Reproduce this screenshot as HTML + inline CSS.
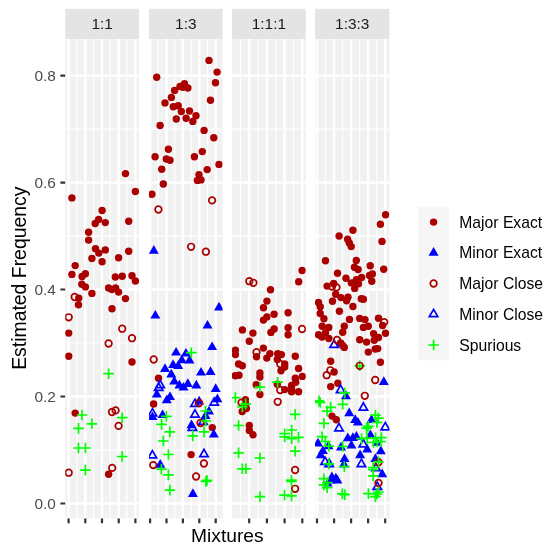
<!DOCTYPE html>
<html><head><meta charset="utf-8"><title>Mixtures</title>
<style>html,body{margin:0;padding:0;background:#fff}svg{display:block}text{font-family:"Liberation Sans",Arial,sans-serif}</style>
</head><body>
<svg width="550" height="550" viewBox="0 0 550 550">
<rect width="550" height="550" fill="#fff"/>
<g>
<rect x="65.2" y="8.8" width="73.8" height="30.3" fill="#e4e4e4"/>
<text x="102.1" y="29.4" font-size="15.4" fill="#1a1a1a" text-anchor="middle">1:1</text>
<rect x="65.2" y="39.1" width="73.8" height="479.3" fill="#f1f1f1"/>
<path d="M65.2 450H139M65.2 343H139M65.2 236.1H139M65.2 129.1H139M76.9 39.1V518.4M93.6 39.1V518.4M110.3 39.1V518.4M127 39.1V518.4" stroke="#fff" stroke-width="1.2" fill="none"/>
<path d="M65.2 503.5H139M65.2 396.5H139M65.2 289.5H139M65.2 182.6H139M65.2 75.6H139M68.6 39.1V518.4M85.3 39.1V518.4M102 39.1V518.4M118.7 39.1V518.4M135.4 39.1V518.4" stroke="#fff" stroke-width="2.4" fill="none"/>
<path d="M68.6 518.4V523.3M85.3 518.4V523.3M102 518.4V523.3M118.7 518.4V523.3M135.4 518.4V523.3" stroke="#333" stroke-width="2.2" fill="none"/>
<clipPath id="c1"><rect x="65.2" y="39.1" width="73.8" height="479.3"/></clipPath>
<g clip-path="url(#c1)">
<g fill="#aa0000">
<circle cx="125.5" cy="173.6" r="3.7"/>
<circle cx="135.4" cy="191.5" r="3.7"/>
<circle cx="71.9" cy="197.9" r="3.7"/>
<circle cx="102.1" cy="210.5" r="3.7"/>
<circle cx="98.6" cy="219.5" r="3.7"/>
<circle cx="95.2" cy="223.5" r="3.7"/>
<circle cx="105.3" cy="222.6" r="3.7"/>
<circle cx="128.7" cy="221.3" r="3.7"/>
<circle cx="88.6" cy="232.3" r="3.7"/>
<circle cx="88.6" cy="240.1" r="3.7"/>
<circle cx="95.5" cy="248.7" r="3.7"/>
<circle cx="105.3" cy="249.9" r="3.7"/>
<circle cx="98.8" cy="253.1" r="3.7"/>
<circle cx="128.7" cy="251.2" r="3.7"/>
<circle cx="91.9" cy="258.5" r="3.7"/>
<circle cx="118.6" cy="257.7" r="3.7"/>
<circle cx="102.1" cy="261.8" r="3.7"/>
<circle cx="75.2" cy="265.6" r="3.7"/>
<circle cx="71.9" cy="274.4" r="3.7"/>
<circle cx="85.4" cy="273.8" r="3.7"/>
<circle cx="82.1" cy="276.5" r="3.7"/>
<circle cx="115.3" cy="277" r="3.7"/>
<circle cx="122.2" cy="276.2" r="3.7"/>
<circle cx="132" cy="275.7" r="3.7"/>
<circle cx="135.4" cy="281" r="3.7"/>
<circle cx="81.8" cy="284.2" r="3.7"/>
<circle cx="85.4" cy="286.9" r="3.7"/>
<circle cx="108.6" cy="288" r="3.7"/>
<circle cx="112" cy="289.6" r="3.7"/>
<circle cx="115.6" cy="288" r="3.7"/>
<circle cx="118.6" cy="292.1" r="3.7"/>
<circle cx="91.9" cy="293.4" r="3.7"/>
<circle cx="125.5" cy="298.6" r="3.7"/>
<circle cx="78.8" cy="298.1" r="3.7"/>
<circle cx="78.5" cy="304.7" r="3.7"/>
<circle cx="112" cy="308.8" r="3.7"/>
<circle cx="68.7" cy="333.1" r="3.7"/>
<circle cx="68.7" cy="356.2" r="3.7"/>
<circle cx="132" cy="362" r="3.7"/>
<circle cx="75.2" cy="413.1" r="3.7"/>
<circle cx="108.6" cy="474.3" r="3.7"/>
</g>
<g fill="none" stroke="#aa0000" stroke-width="1.7">
<circle cx="74.7" cy="297" r="3.3"/>
<circle cx="68.7" cy="317.3" r="3.3"/>
<circle cx="122.2" cy="328.7" r="3.3"/>
<circle cx="132" cy="338.2" r="3.3"/>
<circle cx="108.6" cy="343.5" r="3.3"/>
<circle cx="112" cy="412" r="3.3"/>
<circle cx="115.6" cy="410.4" r="3.3"/>
<circle cx="118.6" cy="425.9" r="3.3"/>
<circle cx="112.2" cy="467.9" r="3.3"/>
<circle cx="68.7" cy="472.7" r="3.3"/>
</g>
<path d="M103.3 373.7H113.9M108.6 368.4V379M76.8 415H87.4M82.1 409.7V420.3M86.6 423.8H97.2M91.9 418.5V429.1M73.2 428.4H83.8M78.5 423.1V433.7M116.9 417.7H127.5M122.2 412.4V423M73.2 448H83.8M78.5 442.7V453.3M80.1 448H90.7M85.4 442.7V453.3M116.9 456.5H127.5M122.2 451.2V461.8M80.1 470.1H90.7M85.4 464.8V475.4" stroke="#00ff00" stroke-width="1.7" fill="none"/>
</g>
</g>
<g>
<rect x="149" y="8.8" width="73.6" height="30.3" fill="#e4e4e4"/>
<text x="185.8" y="29.4" font-size="15.4" fill="#1a1a1a" text-anchor="middle">1:3</text>
<rect x="149" y="39.1" width="73.6" height="479.3" fill="#f1f1f1"/>
<path d="M149 450H222.6M149 343H222.6M149 236.1H222.6M149 129.1H222.6M158.3 39.1V518.4M174.7 39.1V518.4M191.1 39.1V518.4M207.5 39.1V518.4" stroke="#fff" stroke-width="1.2" fill="none"/>
<path d="M149 503.5H222.6M149 396.5H222.6M149 289.5H222.6M149 182.6H222.6M149 75.6H222.6M150.1 39.1V518.4M166.5 39.1V518.4M182.9 39.1V518.4M199.3 39.1V518.4M215.7 39.1V518.4" stroke="#fff" stroke-width="2.4" fill="none"/>
<path d="M150.1 518.4V523.3M166.5 518.4V523.3M182.9 518.4V523.3M199.3 518.4V523.3M215.7 518.4V523.3" stroke="#333" stroke-width="2.2" fill="none"/>
<clipPath id="c2"><rect x="149" y="39.1" width="73.6" height="479.3"/></clipPath>
<g clip-path="url(#c2)">
<g fill="#aa0000">
<circle cx="156.7" cy="77.3" r="3.7"/>
<circle cx="209" cy="60.4" r="3.7"/>
<circle cx="217.1" cy="72.1" r="3.7"/>
<circle cx="215.5" cy="82.8" r="3.7"/>
<circle cx="184.5" cy="83.7" r="3.7"/>
<circle cx="180" cy="86.4" r="3.7"/>
<circle cx="187.9" cy="88" r="3.7"/>
<circle cx="182.8" cy="87.2" r="3.7"/>
<circle cx="174.6" cy="90.4" r="3.7"/>
<circle cx="171.4" cy="97.4" r="3.7"/>
<circle cx="210.5" cy="100.2" r="3.7"/>
<circle cx="165" cy="102.9" r="3.7"/>
<circle cx="173.3" cy="106.8" r="3.7"/>
<circle cx="178.2" cy="105.8" r="3.7"/>
<circle cx="181.3" cy="111.5" r="3.7"/>
<circle cx="189.5" cy="111" r="3.7"/>
<circle cx="196" cy="115.8" r="3.7"/>
<circle cx="176.3" cy="119" r="3.7"/>
<circle cx="186.1" cy="118.3" r="3.7"/>
<circle cx="192.8" cy="121.4" r="3.7"/>
<circle cx="160.1" cy="125.5" r="3.7"/>
<circle cx="204.1" cy="130.4" r="3.7"/>
<circle cx="213.8" cy="137.8" r="3.7"/>
<circle cx="168.4" cy="149.3" r="3.7"/>
<circle cx="155.1" cy="156.7" r="3.7"/>
<circle cx="166.3" cy="159" r="3.7"/>
<circle cx="170" cy="160.3" r="3.7"/>
<circle cx="202.3" cy="151.6" r="3.7"/>
<circle cx="194.4" cy="156.7" r="3.7"/>
<circle cx="219" cy="164.4" r="3.7"/>
<circle cx="161.7" cy="169.3" r="3.7"/>
<circle cx="207.2" cy="169.6" r="3.7"/>
<circle cx="199" cy="174.7" r="3.7"/>
<circle cx="197.4" cy="180.4" r="3.7"/>
<circle cx="201" cy="179.9" r="3.7"/>
<circle cx="163.3" cy="184" r="3.7"/>
<circle cx="151.9" cy="194.3" r="3.7"/>
<circle cx="158.5" cy="378.3" r="3.7"/>
<circle cx="153.6" cy="404" r="3.7"/>
<circle cx="212.3" cy="427.6" r="3.7"/>
<circle cx="191.1" cy="454.6" r="3.7"/>
</g>
<g fill="#0000ff">
<polygon points="153.8,245.1 158.8,253.8 148.8,253.8"/>
<polygon points="219,301.7 224,310.4 214,310.4"/>
<polygon points="155.3,309.9 160.3,318.6 150.3,318.6"/>
<polygon points="207.5,319.9 212.5,328.6 202.5,328.6"/>
<polygon points="212.1,341.4 217.1,350.1 207.1,350.1"/>
<polygon points="176.1,346.9 181.1,355.6 171.1,355.6"/>
<polygon points="185.9,347.9 190.9,356.6 180.9,356.6"/>
<polygon points="181.8,354.5 186.8,363.2 176.8,363.2"/>
<polygon points="189.5,354.8 194.5,363.5 184.5,363.5"/>
<polygon points="173.1,359.2 178.1,367.9 168.1,367.9"/>
<polygon points="178.2,360.2 183.2,368.9 173.2,368.9"/>
<polygon points="165,363.3 170,372 160,372"/>
<polygon points="171.3,368.7 176.3,377.4 166.3,377.4"/>
<polygon points="201,366.9 206,375.6 196,375.6"/>
<polygon points="210.5,366.3 215.5,375 205.5,375"/>
<polygon points="174.3,375.7 179.3,384.4 169.3,384.4"/>
<polygon points="179.4,379.8 184.4,388.5 174.4,388.5"/>
<polygon points="183.5,381.9 188.5,390.6 178.5,390.6"/>
<polygon points="187.8,378.2 192.8,386.9 182.8,386.9"/>
<polygon points="196.3,379.8 201.3,388.5 191.3,388.5"/>
<polygon points="215.7,383.2 220.7,391.9 210.7,391.9"/>
<polygon points="156.8,388.8 161.8,397.5 151.8,397.5"/>
<polygon points="170,391.4 175,400.1 165,400.1"/>
<polygon points="166.8,394.6 171.8,403.3 161.8,403.3"/>
<polygon points="199.2,395.8 204.2,404.5 194.2,404.5"/>
<polygon points="217.4,393.6 222.4,402.3 212.4,402.3"/>
<polygon points="209,405.7 214,414.4 204,414.4"/>
<polygon points="205.5,410.2 210.5,418.9 200.5,418.9"/>
<polygon points="162.6,409.4 167.6,418.1 157.6,418.1"/>
<polygon points="152.5,411.4 157.5,420.1 147.5,420.1"/>
<polygon points="191.5,419.6 196.5,428.3 186.5,428.3"/>
<polygon points="213.8,428.8 218.8,437.5 208.8,437.5"/>
<polygon points="160.2,459 165.2,467.7 155.2,467.7"/>
<polygon points="192.9,488.2 197.9,496.9 187.9,496.9"/>
</g>
<g fill="none" stroke="#0000ff" stroke-width="1.7">
<polygon points="160.2,380.3 164.4,387.6 156,387.6"/>
<polygon points="158.7,383.1 162.9,390.4 154.5,390.4"/>
<polygon points="195,399.1 199.2,406.4 190.8,406.4"/>
<polygon points="214.2,397.9 218.4,405.2 210,405.2"/>
<polygon points="195,409.8 199.2,417.1 190.8,417.1"/>
<polygon points="152.5,408.6 156.7,415.9 148.3,415.9"/>
<polygon points="203.1,417.1 207.3,424.4 198.9,424.4"/>
<polygon points="192.4,423.1 196.6,430.4 188.2,430.4"/>
<polygon points="152.4,450.6 156.6,457.9 148.2,457.9"/>
<polygon points="204,449.3 208.2,456.6 199.8,456.6"/>
</g>
<g fill="none" stroke="#aa0000" stroke-width="1.7">
<circle cx="212.1" cy="200.4" r="3.3"/>
<circle cx="158.4" cy="209.5" r="3.3"/>
<circle cx="191.1" cy="246.8" r="3.3"/>
<circle cx="205.9" cy="251.7" r="3.3"/>
<circle cx="153.7" cy="359.5" r="3.3"/>
<circle cx="199" cy="403" r="3.3"/>
<circle cx="200.5" cy="423" r="3.3"/>
<circle cx="153.2" cy="465.1" r="3.3"/>
<circle cx="203.9" cy="463.5" r="3.3"/>
<circle cx="196.1" cy="476.5" r="3.3"/>
</g>
<path d="M186 352.7H196.6M191.3 347.4V358M200.3 411H210.9M205.6 405.7V416.3M200.5 421H211.1M205.8 415.7V426.3M161.1 416.4H171.7M166.4 411.1V421.7M156.3 424.4H166.9M161.6 419.1V429.7M164.5 431.9H175.1M169.8 426.6V437.2M187.4 435.9H198M192.7 430.6V441.2M198.8 431.9H209.4M204.1 426.6V437.2M158 441H168.6M163.3 435.7V446.3M163.1 454.5H173.7M168.4 449.2V459.8M156.1 469.2H166.7M161.4 463.9V474.5M163.1 474.9H173.7M168.4 469.6V480.2M164.6 490.1H175.2M169.9 484.8V495.4M200.6 481.5H211.2M205.9 476.2V486.8M201.7 480.4H212.3M207 475.1V485.7" stroke="#00ff00" stroke-width="1.7" fill="none"/>
</g>
</g>
<g>
<rect x="231.9" y="8.8" width="73.9" height="30.3" fill="#e4e4e4"/>
<text x="268.9" y="29.4" font-size="15.4" fill="#1a1a1a" text-anchor="middle">1:1:1</text>
<rect x="231.9" y="39.1" width="73.9" height="479.3" fill="#f1f1f1"/>
<path d="M231.9 450H305.8M231.9 343H305.8M231.9 236.1H305.8M231.9 129.1H305.8M240.4 39.1V518.4M258.1 39.1V518.4M275.8 39.1V518.4M293.5 39.1V518.4" stroke="#fff" stroke-width="1.2" fill="none"/>
<path d="M231.9 503.5H305.8M231.9 396.5H305.8M231.9 289.5H305.8M231.9 182.6H305.8M231.9 75.6H305.8M249.2 39.1V518.4M266.9 39.1V518.4M284.6 39.1V518.4M302.3 39.1V518.4" stroke="#fff" stroke-width="2.4" fill="none"/>
<path d="M249.2 518.4V523.3M266.9 518.4V523.3M284.6 518.4V523.3M302.3 518.4V523.3" stroke="#333" stroke-width="2.2" fill="none"/>
<clipPath id="c3"><rect x="231.9" y="39.1" width="73.9" height="479.3"/></clipPath>
<g clip-path="url(#c3)">
<g fill="#aa0000">
<circle cx="302.1" cy="270.5" r="3.7"/>
<circle cx="298.7" cy="281.7" r="3.7"/>
<circle cx="270.5" cy="289.7" r="3.7"/>
<circle cx="266.9" cy="301.1" r="3.7"/>
<circle cx="263.5" cy="307.7" r="3.7"/>
<circle cx="274.1" cy="314.2" r="3.7"/>
<circle cx="288.1" cy="312.8" r="3.7"/>
<circle cx="266.9" cy="316.9" r="3.7"/>
<circle cx="263.5" cy="320.1" r="3.7"/>
<circle cx="242.4" cy="329.9" r="3.7"/>
<circle cx="252.9" cy="333.1" r="3.7"/>
<circle cx="274.1" cy="329" r="3.7"/>
<circle cx="270.9" cy="332.4" r="3.7"/>
<circle cx="288.1" cy="327.8" r="3.7"/>
<circle cx="288.1" cy="334.7" r="3.7"/>
<circle cx="249.3" cy="341.3" r="3.7"/>
<circle cx="235.4" cy="350.1" r="3.7"/>
<circle cx="235.4" cy="354.6" r="3.7"/>
<circle cx="256.5" cy="356.7" r="3.7"/>
<circle cx="263.4" cy="348.1" r="3.7"/>
<circle cx="269.9" cy="353.6" r="3.7"/>
<circle cx="266.8" cy="358.1" r="3.7"/>
<circle cx="238.6" cy="364" r="3.7"/>
<circle cx="242.3" cy="365.7" r="3.7"/>
<circle cx="235.2" cy="375.8" r="3.7"/>
<circle cx="239" cy="375.2" r="3.7"/>
<circle cx="259.9" cy="373" r="3.7"/>
<circle cx="259.9" cy="377" r="3.7"/>
<circle cx="277.7" cy="353.8" r="3.7"/>
<circle cx="281.4" cy="354.6" r="3.7"/>
<circle cx="277.3" cy="359.5" r="3.7"/>
<circle cx="284.7" cy="364" r="3.7"/>
<circle cx="284.7" cy="367" r="3.7"/>
<circle cx="281" cy="370.7" r="3.7"/>
<circle cx="295.3" cy="356.3" r="3.7"/>
<circle cx="298.6" cy="368.5" r="3.7"/>
<circle cx="302.3" cy="376.4" r="3.7"/>
<circle cx="295.3" cy="378.3" r="3.7"/>
<circle cx="295.7" cy="382.3" r="3.7"/>
<circle cx="291.6" cy="385.5" r="3.7"/>
<circle cx="277.3" cy="384.3" r="3.7"/>
<circle cx="284.7" cy="389.6" r="3.7"/>
<circle cx="291.6" cy="391.7" r="3.7"/>
<circle cx="291.6" cy="389" r="3.7"/>
<circle cx="298.6" cy="391.7" r="3.7"/>
<circle cx="256.2" cy="384.7" r="3.7"/>
<circle cx="259.9" cy="394.5" r="3.7"/>
<circle cx="245.4" cy="399.8" r="3.7"/>
<circle cx="245.6" cy="404" r="3.7"/>
<circle cx="246.4" cy="408.5" r="3.7"/>
<circle cx="242.2" cy="411.5" r="3.7"/>
<circle cx="249.3" cy="425.5" r="3.7"/>
<circle cx="249.3" cy="430.4" r="3.7"/>
<circle cx="253" cy="434.8" r="3.7"/>
</g>
<g fill="none" stroke="#aa0000" stroke-width="1.7">
<circle cx="249.3" cy="281.2" r="3.3"/>
<circle cx="253.4" cy="282.8" r="3.3"/>
<circle cx="302.1" cy="329" r="3.3"/>
<circle cx="256.5" cy="352.2" r="3.3"/>
<circle cx="280.2" cy="364" r="3.3"/>
<circle cx="241.5" cy="402.6" r="3.3"/>
<circle cx="280.2" cy="390" r="3.3"/>
<circle cx="277.7" cy="401.8" r="3.3"/>
<circle cx="295.1" cy="470" r="3.3"/>
<circle cx="295.1" cy="488.8" r="3.3"/>
</g>
<path d="M272.3 382.2H282.9M277.6 376.9V387.5M254.6 387.2H265.2M259.9 381.9V392.5M230.1 397.6H240.7M235.4 392.3V402.9M240.3 404.1H250.9M245.6 398.8V409.4M237 406.7H247.6M242.3 401.4V412M289.9 414.4H300.5M295.2 409.1V419.7M233.3 425.5H243.9M238.6 420.2V430.8M286.4 430H297M291.7 424.7V435.3M279.4 433.7H290M284.7 428.4V439M279.4 436.9H290M284.7 431.6V442.2M286.4 438.7H297M291.7 433.4V444M293.2 437.3H303.8M298.5 432V442.6M233.3 452.9H243.9M238.6 447.6V458.2M289.9 451.1H300.5M295.2 445.8V456.4M254.6 458H265.2M259.9 452.7V463.3M237.1 468.8H247.7M242.4 463.5V474.1M240.7 468.8H251.3M246 463.5V474.1M286.2 480.2H296.8M291.5 474.9V485.5M286.2 481.5H296.8M291.5 476.2V486.8M254.6 496.7H265.2M259.9 491.4V502M279.2 495.1H289.8M284.5 489.8V500.4M286.2 495.9H296.8M291.5 490.6V501.2" stroke="#00ff00" stroke-width="1.7" fill="none"/>
</g>
</g>
<g>
<rect x="315" y="8.8" width="74.5" height="30.3" fill="#e4e4e4"/>
<text x="352.2" y="29.4" font-size="15.4" fill="#1a1a1a" text-anchor="middle">1:3:3</text>
<rect x="315" y="39.1" width="74.5" height="479.3" fill="#f1f1f1"/>
<path d="M315 450H389.5M315 343H389.5M315 236.1H389.5M315 129.1H389.5M325.5 39.1V518.4M342.6 39.1V518.4M359.6 39.1V518.4M376.7 39.1V518.4" stroke="#fff" stroke-width="1.2" fill="none"/>
<path d="M315 503.5H389.5M315 396.5H389.5M315 289.5H389.5M315 182.6H389.5M315 75.6H389.5M317 39.1V518.4M334.1 39.1V518.4M351.1 39.1V518.4M368.1 39.1V518.4M385.2 39.1V518.4" stroke="#fff" stroke-width="2.4" fill="none"/>
<path d="M317 518.4V523.3M334.1 518.4V523.3M351.1 518.4V523.3M368.1 518.4V523.3M385.2 518.4V523.3" stroke="#333" stroke-width="2.2" fill="none"/>
<clipPath id="c4"><rect x="315" y="39.1" width="74.5" height="479.3"/></clipPath>
<g clip-path="url(#c4)">
<g fill="#aa0000">
<circle cx="385.6" cy="214.7" r="3.7"/>
<circle cx="380.4" cy="224.2" r="3.7"/>
<circle cx="352.9" cy="230.3" r="3.7"/>
<circle cx="339.1" cy="236" r="3.7"/>
<circle cx="347.6" cy="239.3" r="3.7"/>
<circle cx="349.3" cy="242.9" r="3.7"/>
<circle cx="351.2" cy="246.6" r="3.7"/>
<circle cx="382" cy="241.4" r="3.7"/>
<circle cx="325.5" cy="260.8" r="3.7"/>
<circle cx="356.3" cy="260.5" r="3.7"/>
<circle cx="370.2" cy="265.8" r="3.7"/>
<circle cx="354.4" cy="267.3" r="3.7"/>
<circle cx="358.1" cy="269.5" r="3.7"/>
<circle cx="383.7" cy="269.3" r="3.7"/>
<circle cx="337.5" cy="273.3" r="3.7"/>
<circle cx="372.4" cy="273.9" r="3.7"/>
<circle cx="369.5" cy="275.5" r="3.7"/>
<circle cx="371.8" cy="281.2" r="3.7"/>
<circle cx="346" cy="278.2" r="3.7"/>
<circle cx="361.6" cy="277.5" r="3.7"/>
<circle cx="356.4" cy="279.6" r="3.7"/>
<circle cx="351.4" cy="282.9" r="3.7"/>
<circle cx="358.5" cy="283.7" r="3.7"/>
<circle cx="354.7" cy="288.4" r="3.7"/>
<circle cx="327.1" cy="286.1" r="3.7"/>
<circle cx="333.7" cy="283.4" r="3.7"/>
<circle cx="335.7" cy="294.3" r="3.7"/>
<circle cx="341" cy="297.6" r="3.7"/>
<circle cx="348" cy="297.3" r="3.7"/>
<circle cx="346.6" cy="300.7" r="3.7"/>
<circle cx="332.5" cy="301.3" r="3.7"/>
<circle cx="318.5" cy="302.5" r="3.7"/>
<circle cx="320.2" cy="306.8" r="3.7"/>
<circle cx="352.9" cy="306.5" r="3.7"/>
<circle cx="361.3" cy="298.8" r="3.7"/>
<circle cx="363.4" cy="299.2" r="3.7"/>
<circle cx="320.2" cy="313.5" r="3.7"/>
<circle cx="323.9" cy="318.8" r="3.7"/>
<circle cx="339.4" cy="311.2" r="3.7"/>
<circle cx="349.5" cy="319.4" r="3.7"/>
<circle cx="359.7" cy="318.4" r="3.7"/>
<circle cx="365" cy="319.6" r="3.7"/>
<circle cx="363.4" cy="327.4" r="3.7"/>
<circle cx="368.3" cy="326.2" r="3.7"/>
<circle cx="378.5" cy="318.2" r="3.7"/>
<circle cx="382.6" cy="325.5" r="3.7"/>
<circle cx="385.5" cy="333.3" r="3.7"/>
<circle cx="373.6" cy="333.6" r="3.7"/>
<circle cx="378.5" cy="337.5" r="3.7"/>
<circle cx="374.2" cy="340.3" r="3.7"/>
<circle cx="359.7" cy="339.7" r="3.7"/>
<circle cx="366.6" cy="342.1" r="3.7"/>
<circle cx="322.2" cy="326.2" r="3.7"/>
<circle cx="328.8" cy="327.4" r="3.7"/>
<circle cx="318.5" cy="334.8" r="3.7"/>
<circle cx="325.5" cy="332.7" r="3.7"/>
<circle cx="328.8" cy="338.5" r="3.7"/>
<circle cx="322" cy="337" r="3.7"/>
<circle cx="344.3" cy="326.2" r="3.7"/>
<circle cx="342.7" cy="332.3" r="3.7"/>
<circle cx="340.6" cy="342.9" r="3.7"/>
<circle cx="342.7" cy="345.4" r="3.7"/>
<circle cx="344.3" cy="347.4" r="3.7"/>
<circle cx="375.2" cy="349" r="3.7"/>
<circle cx="377.7" cy="348.6" r="3.7"/>
<circle cx="368.3" cy="352.1" r="3.7"/>
<circle cx="380.4" cy="362.3" r="3.7"/>
<circle cx="330.7" cy="361.3" r="3.7"/>
<circle cx="334.1" cy="372" r="3.7"/>
<circle cx="337.8" cy="383.2" r="3.7"/>
<circle cx="330.7" cy="386.6" r="3.7"/>
<circle cx="332" cy="416.1" r="3.7"/>
<circle cx="336.3" cy="419.8" r="3.7"/>
</g>
<g fill="#0000ff">
<polygon points="383.8,376.2 388.8,384.9 378.8,384.9"/>
<polygon points="346,390.6 351,399.3 341,399.3"/>
<polygon points="349.2,407.6 354.2,416.3 344.2,416.3"/>
<polygon points="355.2,414.2 360.2,422.9 350.2,422.9"/>
<polygon points="357.9,416.9 362.9,425.6 352.9,425.6"/>
<polygon points="371.5,414.2 376.5,422.9 366.5,422.9"/>
<polygon points="370.4,429.4 375.4,438.1 365.4,438.1"/>
<polygon points="347.8,432.5 352.8,441.2 342.8,441.2"/>
<polygon points="352.9,432.2 357.9,440.9 347.9,440.9"/>
<polygon points="356.4,431 361.4,439.7 351.4,439.7"/>
<polygon points="351.4,439.8 356.4,448.5 346.4,448.5"/>
<polygon points="341,441.7 346,450.4 336,450.4"/>
<polygon points="344.5,453.2 349.5,461.9 339.5,461.9"/>
<polygon points="343.9,458.7 348.9,467.4 338.9,467.4"/>
<polygon points="328.4,440.5 333.4,449.2 323.4,449.2"/>
<polygon points="322.9,445.4 327.9,454.1 317.9,454.1"/>
<polygon points="320.7,449.5 325.7,458.2 315.7,458.2"/>
<polygon points="318,437.7 323,446.4 313,446.4"/>
<polygon points="331.9,471.6 336.9,480.3 326.9,480.3"/>
<polygon points="335.8,472.8 340.8,481.5 330.8,481.5"/>
<polygon points="330.7,474.7 335.7,483.4 325.7,483.4"/>
<polygon points="337.4,474.7 342.4,483.4 332.4,483.4"/>
<polygon points="327.6,477.9 332.6,486.6 322.6,486.6"/>
<polygon points="367.2,443.8 372.2,452.5 362.2,452.5"/>
<polygon points="360.1,449.5 365.1,458.2 355.1,458.2"/>
<polygon points="375.4,453.3 380.4,462 370.4,462"/>
<polygon points="377,437 382,445.7 372,445.7"/>
<polygon points="380.8,445.5 385.8,454.2 375.8,454.2"/>
<polygon points="382.2,468.5 387.2,477.2 377.2,477.2"/>
</g>
<g fill="none" stroke="#0000ff" stroke-width="1.7">
<polygon points="334.1,340.1 338.3,347.4 329.9,347.4"/>
<polygon points="340.6,385.2 344.8,392.6 336.4,392.6"/>
<polygon points="363.4,402.8 367.6,410.1 359.2,410.1"/>
<polygon points="339,423.4 343.2,430.8 334.8,430.8"/>
<polygon points="385.3,422.4 389.5,429.8 381.1,429.8"/>
<polygon points="363.3,439.5 367.5,446.8 359.1,446.8"/>
<polygon points="325.1,457.1 329.3,464.4 320.9,464.4"/>
<polygon points="329.2,459.2 333.4,466.6 325,466.6"/>
<polygon points="361.4,459.2 365.6,466.6 357.2,466.6"/>
<polygon points="376,463.3 380.2,470.6 371.8,470.6"/>
<polygon points="377.3,482.1 381.5,489.4 373.1,489.4"/>
</g>
<path d="M354.4 365.8H365M359.7 360.5V371.1" stroke="#00ff00" stroke-width="1.7" fill="none"/>
<g fill="none" stroke="#aa0000" stroke-width="1.7">
<circle cx="332" cy="286.5" r="3.3"/>
<circle cx="336.5" cy="287.4" r="3.3"/>
<circle cx="384.2" cy="322.1" r="3.3"/>
<circle cx="337" cy="340" r="3.3"/>
<circle cx="359.7" cy="365.8" r="3.3"/>
<circle cx="330.4" cy="370.3" r="3.3"/>
<circle cx="326.7" cy="375.2" r="3.3"/>
<circle cx="375.2" cy="380" r="3.3"/>
<circle cx="364.8" cy="395.8" r="3.3"/>
<circle cx="378.5" cy="462.2" r="3.3"/>
<circle cx="378.5" cy="483" r="3.3"/>
</g>
<path d="M339.4 392.9H350M344.7 387.6V398.2M313.7 400.9H324.3M319 395.6V406.2M314.9 402.5H325.5M320.2 397.2V407.8M325.4 407.3H336M330.7 402V412.6M321.8 411.1H332.4M327.1 405.8V416.4M337.4 404.3H348M342.7 399V409.6M318.6 423.3H329.2M323.9 418V428.6M316.8 436.7H327.4M322.1 431.4V442M320.1 441.5H330.7M325.4 436.2V446.8M323.6 446.2H334.2M328.9 440.9V451.5M337.4 446.5H348M342.7 441.2V451.8M323.6 463.9H334.2M328.9 458.6V469.2M339 466.6H349.6M344.3 461.3V471.9M318.6 478.7H329.2M323.9 473.4V484M318.6 484.9H329.2M323.9 479.6V490.2M322 482.7H332.6M327.3 477.4V488M321.8 487.6H332.4M327.1 482.3V492.9M337 493.9H347.6M342.3 488.6V499.2M339.5 494.7H350.1M344.8 489.4V500M370.1 415.1H380.7M375.4 409.8V420.4M373.1 418.1H383.7M378.4 412.8V423.4M371.7 422.5H382.3M377 417.2V427.8M363 426.3H373.6M368.3 421V431.6M361.3 428.2H371.9M366.6 422.9V433.5M356.2 438.7H366.8M361.5 433.4V444M370.3 437.9H380.9M375.6 432.6V443.2M376.1 437.6H386.7M381.4 432.3V442.9M368.2 442.5H378.8M373.5 437.2V447.8M372 442H382.6M377.3 436.7V447.3M361.9 438.2H372.5M367.2 432.9V443.5M375.4 441.5H386M380.7 436.2V446.8M373.2 461.8H383.8M378.5 456.5V467.1M367.9 467.5H378.5M373.2 462.2V472.8M367.9 469.6H378.5M373.2 464.3V474.9M367.9 475.9H378.5M373.2 470.6V481.2M363.1 493.6H373.7M368.4 488.3V498.9M373.2 492H383.8M378.5 486.7V497.3M370 496.6H380.6M375.3 491.3V501.9M371.7 494H382.3M377 488.7V499.3" stroke="#00ff00" stroke-width="1.7" fill="none"/>
</g>
</g>
<path d="M60.4 503.5H65.2M60.4 396.5H65.2M60.4 289.5H65.2M60.4 182.6H65.2M60.4 75.6H65.2" stroke="#333" stroke-width="2.2" fill="none"/>
<text x="55.8" y="509.1" font-size="15.4" fill="#4d4d4d" text-anchor="end">0.0</text>
<text x="55.8" y="402.1" font-size="15.4" fill="#4d4d4d" text-anchor="end">0.2</text>
<text x="55.8" y="295.1" font-size="15.4" fill="#4d4d4d" text-anchor="end">0.4</text>
<text x="55.8" y="188.2" font-size="15.4" fill="#4d4d4d" text-anchor="end">0.6</text>
<text x="55.8" y="81.2" font-size="15.4" fill="#4d4d4d" text-anchor="end">0.8</text>
<text transform="translate(25.9 278.2) rotate(-90)" font-size="19.4" fill="#000" text-anchor="middle">Estimated Frequency</text>
<text x="227.3" y="542.3" font-size="19.2" fill="#000" text-anchor="middle">Mixtures</text>
<rect x="418.2" y="206.7" width="30.7" height="153.7" fill="#f6f6f6"/>
<circle cx="433.6" cy="222.1" r="3.7" fill="#aa0000"/>
<text x="459.3" y="227.6" font-size="15.7" fill="#000">Major Exact</text>
<polygon points="433.6,247 438.6,255.7 428.5,255.7" fill="#0000ff"/>
<text x="459.3" y="258.3" font-size="15.7" fill="#000">Minor Exact</text>
<circle cx="433.6" cy="283.5" r="3.3" fill="none" stroke="#aa0000" stroke-width="1.7"/>
<text x="459.3" y="289" font-size="15.7" fill="#000">Major Close</text>
<polygon points="433.6,309.4 437.8,316.7 429.3,316.7" fill="none" stroke="#0000ff" stroke-width="1.7"/>
<text x="459.3" y="319.8" font-size="15.7" fill="#000">Minor Close</text>
<path d="M428.3 345H438.9M433.6 339.7V350.3" stroke="#00ff00" stroke-width="1.7" fill="none"/>
<text x="459.3" y="350.5" font-size="15.7" fill="#000">Spurious</text>
</svg>
</body></html>
